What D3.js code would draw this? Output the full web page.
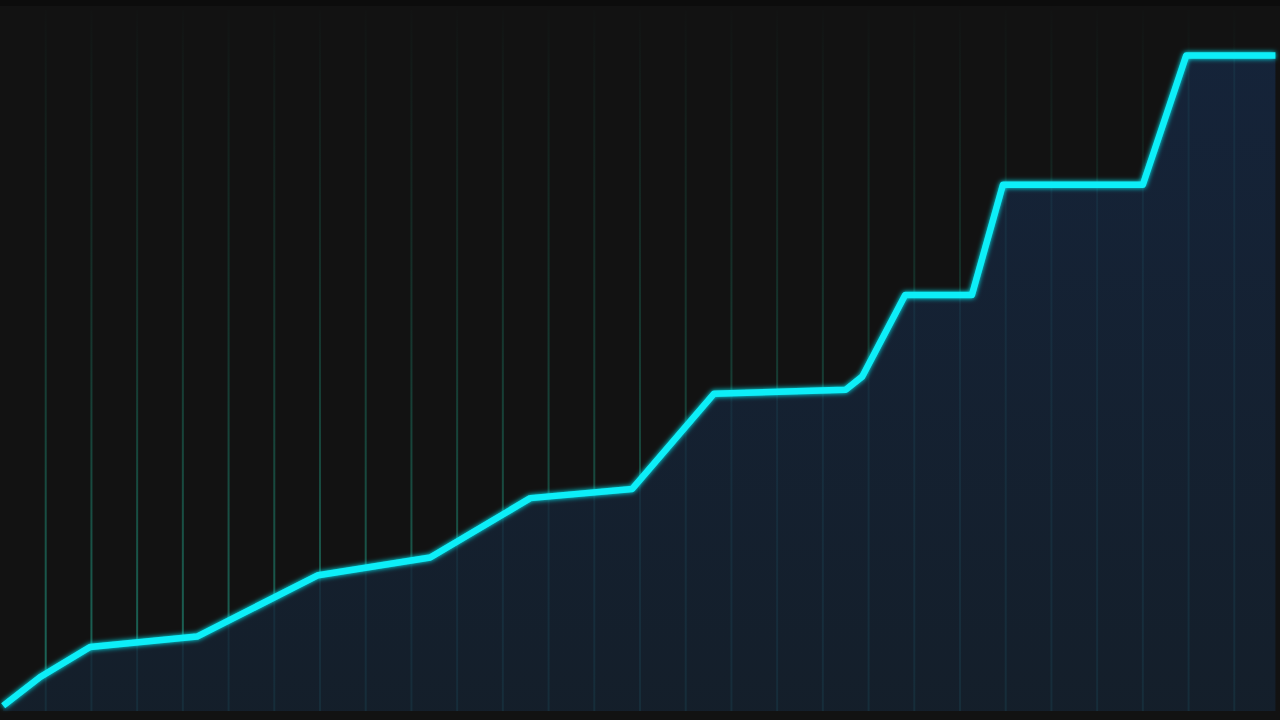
<!DOCTYPE html>
<html><head><meta charset="utf-8">
<script src="https://cdn.jsdelivr.net/npm/d3@7"></script>
<style>html,body{margin:0;padding:0;background:#121212;overflow:hidden}</style>
</head><body><svg id="c" width="1280" height="720"></svg>
<script>
// Data (x in grid units, y in value units)
const xs = [0.07, 0.88, 1.97, 4.31, 6.96, 9.41, 11.6, 13.83, 15.62, 18.5, 18.86, 19.8, 21.26, 21.94, 25.0, 25.95, 27.9];
const ys = [0.8, 5.2, 9.8, 11.4, 20.8, 23.5, 32.6, 34.0, 48.6, 49.2, 51.2, 63.7, 63.7, 80.6, 80.6, 100.4, 100.4];
const gridTicks = d3.range(1, 28);

const W = 1280, H = 720;
const svg = d3.select('#c');
const x = d3.scaleLinear().domain([0, 28]).range([0, 1280]);
const y = d3.scaleLinear().domain([0, 100]).range([711, 58]);
const data = xs.map((d, i) => ({x: d, y: ys[i]}));

const defs = svg.append('defs');
const ag = defs.append('linearGradient').attr('id','ag').attr('x1',0).attr('y1',0).attr('x2',0).attr('y2',1);
ag.append('stop').attr('offset','0%').attr('stop-color','#15243a');
ag.append('stop').attr('offset','100%').attr('stop-color','#141f2b');
const gg = defs.append('linearGradient').attr('id','gg').attr('gradientUnits','userSpaceOnUse').attr('x1',0).attr('y1',0).attr('x2',0).attr('y2',711);
gg.append('stop').attr('offset','0%').attr('stop-color','#1a6a55').attr('stop-opacity',0);
gg.append('stop').attr('offset','35%').attr('stop-color','#1a6a55').attr('stop-opacity',0.3);
gg.append('stop').attr('offset','100%').attr('stop-color','#1d7a6a').attr('stop-opacity',0.85);
const glow = defs.append('filter').attr('id','glow').attr('x','-5%').attr('y','-5%').attr('width','110%').attr('height','110%');
glow.append('feGaussianBlur').attr('stdDeviation',2.5).attr('result','b');
const m = glow.append('feMerge'); m.append('feMergeNode').attr('in','b'); m.append('feMergeNode').attr('in','SourceGraphic');

svg.append('rect').attr('width',W).attr('height',H).attr('fill','#121212');
svg.append('rect').attr('width',W).attr('height',6).attr('fill','#0c0c0c');

// grid lines
svg.append('g').selectAll('line').data(gridTicks).join('line')
  .attr('x1', d => x(d)).attr('x2', d => x(d))
  .attr('y1', 10).attr('y2', 711)
  .attr('stroke', 'url(#gg)').attr('stroke-width', 2);

// area
const area = d3.area().x(d => x(d.x)).y0(711).y1(d => y(d.y));
svg.append('path').datum(data).attr('d', area).attr('fill', 'url(#ag)').attr('opacity', 0.97);

// faint grid inside area (blueish)
const clip = defs.append('clipPath').attr('id','ac');
clip.append('path').datum(data).attr('d', area);
svg.append('g').attr('clip-path','url(#ac)').selectAll('line').data(gridTicks).join('line')
  .attr('x1', d => x(d)).attr('x2', d => x(d))
  .attr('y1', 10).attr('y2', 711)
  .attr('stroke', '#1f4a5a').attr('stroke-opacity', 0.3).attr('stroke-width', 2);

// line
const line = d3.line().x(d => x(d.x)).y(d => y(d.y));
svg.append('path').datum(data).attr('d', line)
  .attr('fill','none').attr('stroke','#10eef8').attr('stroke-width',6.5)
  .attr('stroke-linejoin','round').attr('filter','url(#glow)');
</script></body></html>
